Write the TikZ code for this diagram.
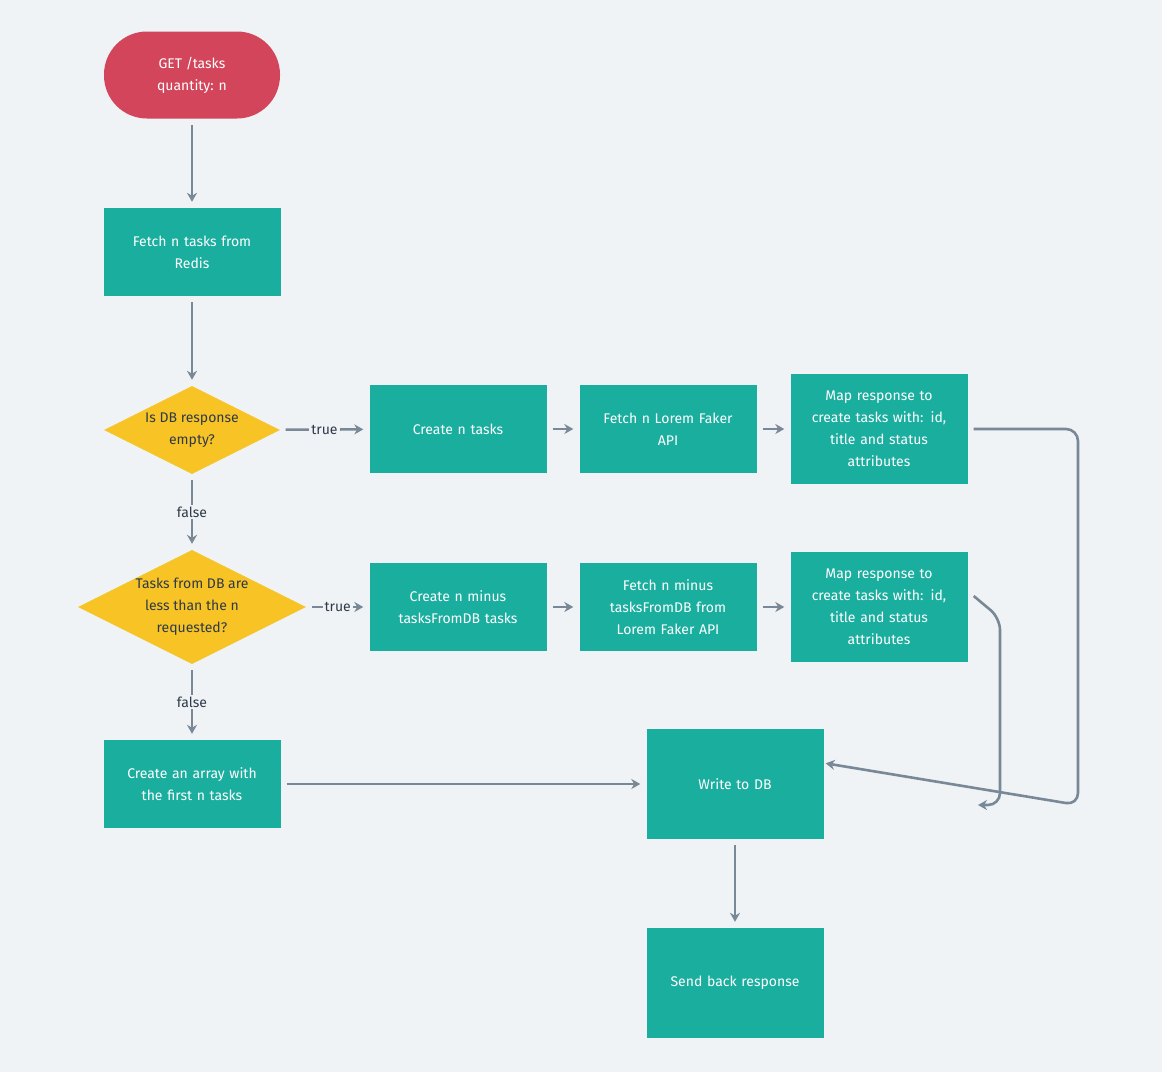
\documentclass[tikz,border=0pt]{standalone}
\usepackage{fontspec}
\setmainfont{Fira Sans}
\usetikzlibrary{shapes.geometric,arrows.meta}
\definecolor{bg}{HTML}{EFF3F6}
\definecolor{teal}{HTML}{1AAE9F}
\definecolor{red}{HTML}{D3455B}
\definecolor{yel}{HTML}{F7C325}
\definecolor{ln}{HTML}{788896}
\definecolor{dk}{HTML}{2E3A47}
\begin{document}
\begin{tikzpicture}[x=1pt,y=-1pt,
 box/.style={fill=teal,text=white,minimum width=177pt,minimum height=88pt,align=center,text width=160pt,font=\fontsize{14}{22}\selectfont},
 tall/.style={box,minimum height=110pt},
 dia/.style={diamond,fill=yel,text=dk,aspect=2,minimum width=176pt,minimum height=88pt,inner sep=0pt,align=center,font=\fontsize{14}{22}\selectfont},
 ar/.style={draw=ln,line width=2.6pt,-{Stealth[length=9pt,width=10pt]}},
 lbl/.style={fill=bg,text=dk,font=\fontsize{14}{16}\selectfont,inner sep=2pt}]
\fill[bg] (0,0) rectangle (1162,1072);
\node[fill=red,text=white,rounded corners=43pt,minimum width=176pt,minimum height=87pt,align=center,font=\fontsize{14}{22}\selectfont] (s) at (192,75) {GET /tasks\\quantity: n};
\node[box] (r) at (192,252) {Fetch n tasks from\\Redis};
\node[dia] (d1) at (192,430) {Is DB response\\empty?};
\node[dia] (d2) at (192,607) {Tasks from DB are\\less than the n\\requested?};
\node[box] (ca) at (192,784) {Create an array with\\the first n tasks};
\node[box] (c1) at (458,429) {Create n tasks};
\node[box] (f1) at (668,429) {Fetch n Lorem Faker\\API};
\node[tall] (m1) at (879,429) {Map response to\\create tasks with: id,\\title and status\\attributes};
\node[box] (c2) at (458,607) {Create n minus\\tasksFromDB tasks};
\node[box] (f2) at (668,607) {Fetch n minus\\tasksFromDB from\\Lorem Faker API};
\node[tall] (m2) at (879,607) {Map response to\\create tasks with: id,\\title and status\\attributes};
\node[tall] (w) at (735,784) {Write to DB};
\node[tall] (sb) at (735,983) {Send back response};
\draw[ar,shorten <=6pt,shorten >=6pt] (s) -- (r);
\draw[ar,shorten <=6pt,shorten >=6pt] (r) -- (d1);
\draw[ar,shorten <=6pt,shorten >=6pt] (d1) -- node[lbl]{false} (d2);
\draw[ar,shorten <=6pt,shorten >=6pt] (d2) -- node[lbl]{false} (ca);
\draw[ar,shorten <=6pt,shorten >=6pt] (d1) -- node[lbl]{true} (c1);
\draw[ar,shorten <=6pt,shorten >=6pt] (d2) -- node[lbl]{true} (c2);
\draw[ar,shorten <=6pt,shorten >=6pt] (c1) -- (f1);
\draw[ar,shorten <=6pt,shorten >=6pt] (f1) -- (m1);
\draw[ar,shorten <=6pt,shorten >=6pt] (c2) -- (f2);
\draw[ar,shorten <=6pt,shorten >=6pt] (f2) -- (m2);
\draw[ar,shorten <=6pt,shorten >=6pt] (ca) -- (w);
\draw[ar,shorten <=6pt,shorten >=6pt] (w) -- (sb);
\draw[ar,rounded corners=12pt,shorten >=2pt] ([xshift=6pt]m1.east) -- (1078,429) -- (1078,805) -- ([yshift=21pt]w.east);
\draw[ar,rounded corners=12pt] ([xshift=6pt,yshift=11pt]m2.east) -- (1000,618) -- (1000,805) -- (978,805);
\end{tikzpicture}
\end{document}
